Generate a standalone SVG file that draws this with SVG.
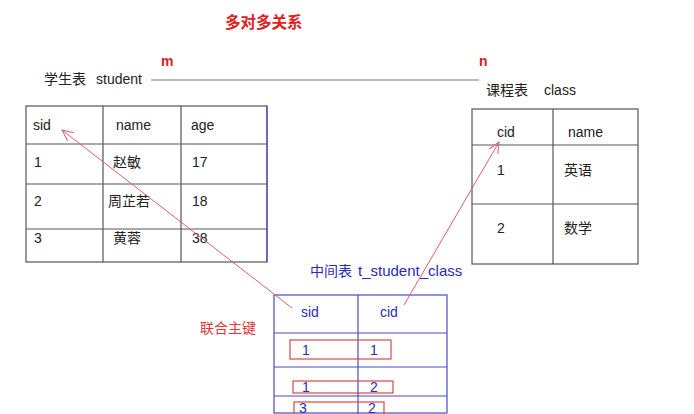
<svg xmlns="http://www.w3.org/2000/svg" width="694" height="414" viewBox="0 0 694 414">
<style>
text{font-family:"Liberation Sans","Noto Sans CJK SC",sans-serif;font-size:14px;fill:#222}
.red{fill:#e02020;font-weight:bold}
.blue{fill:#2c2cb8}
.lab{fill:#e03838}
.g{fill:none;stroke:#555;stroke-width:1.2}
.b{fill:none;stroke:#4a4ac8;stroke-width:1.2}
.rk{fill:none;stroke:#d84848;stroke-width:1.2}
.conn{fill:none;stroke:#d86070;stroke-width:1}
</style>
<defs>
<marker id="ah" viewBox="0 0 12 12" refX="11" refY="6" markerWidth="12" markerHeight="12" markerUnits="userSpaceOnUse" orient="auto">
<polyline points="0,1 11,6 0,11" fill="none" stroke="#d86070" stroke-width="1"/>
</marker>
</defs>
<rect width="694" height="414" fill="#fff"/>
<g id="title">
<text x="225" y="28" class="red" style="font-size:15.5px">多对多关系</text>
</g>
<g id="relation">
<line x1="151" y1="80" x2="479" y2="80" stroke="#777" stroke-width="1.2"/>
<text x="161" y="66" class="red">m</text>
<text x="479" y="66" class="red">n</text>
</g>
<g id="student">
<text x="44" y="84">学生表</text><text x="96" y="84">student</text>
<rect x="26" y="106" width="241" height="156" class="g"/>
<line x1="267" y1="106" x2="267" y2="262" stroke="#4a4ac8" stroke-width="1.2"/>
<line x1="103" y1="106" x2="103" y2="262" class="g"/>
<line x1="181" y1="106" x2="181" y2="262" class="g"/>
<line x1="26" y1="144" x2="267" y2="144" class="g"/>
<line x1="26" y1="184" x2="267" y2="184" class="g"/>
<line x1="26" y1="229" x2="267" y2="229" class="g"/>
<text x="33" y="130">sid</text><text x="116" y="130">name</text><text x="191" y="130">age</text>
<text x="34" y="167">1</text><text x="113" y="167">赵敏</text><text x="192" y="167">17</text>
<text x="34" y="206">2</text><text x="108" y="206">周芷若</text><text x="192" y="206">18</text>
<text x="34" y="243">3</text><text x="113" y="243">黄蓉</text><text x="192" y="243">38</text>
</g>
<g id="class">
<text x="486" y="95">课程表</text><text x="544" y="95">class</text>
<rect x="472" y="109" width="166" height="155" class="g"/>
<line x1="553" y1="109" x2="553" y2="264" class="g"/>
<line x1="472" y1="145" x2="638" y2="145" class="g"/>
<line x1="472" y1="204" x2="638" y2="204" class="g"/>
<text x="497" y="137">cid</text><text x="568" y="137">name</text>
<text x="497" y="175">1</text><text x="564" y="175">英语</text>
<text x="497" y="233">2</text><text x="564" y="233">数学</text>
</g>
<g id="t_student_class">
<text x="310" y="276" class="blue">中间表</text><text x="358" y="276" class="blue" style="font-size:15px">t_student_class</text>
<rect x="274" y="295" width="173" height="118" class="b"/>
<line x1="358" y1="295" x2="358" y2="414" class="b"/>
<line x1="274" y1="333" x2="447" y2="333" class="b"/>
<line x1="274" y1="367" x2="447" y2="367" class="b"/>
<line x1="274" y1="396" x2="447" y2="396" class="b"/>
<text x="301" y="317" class="blue">sid</text><text x="380" y="317" class="blue">cid</text>
<rect x="290" y="340" width="101" height="19" class="rk"/>
<rect x="293" y="381" width="100" height="12" class="rk"/>
<rect x="294" y="402" width="90" height="14" class="rk"/>
<text x="302" y="355" class="blue">1</text><text x="370" y="355" class="blue">1</text>
<text x="302" y="392" class="blue">1</text><text x="370" y="392" class="blue">2</text>
<text x="299" y="413" class="blue">3</text><text x="368" y="413" class="blue">2</text>
</g>
<g id="pk-label">
<text x="200" y="333" class="lab">联合主键</text>
</g>
<g id="connectors">
<line x1="292" y1="308" x2="62" y2="130" class="conn" marker-end="url(#ah)"/>
<line x1="404" y1="305" x2="499" y2="142" class="conn" marker-end="url(#ah)"/>
</g>
</svg>
